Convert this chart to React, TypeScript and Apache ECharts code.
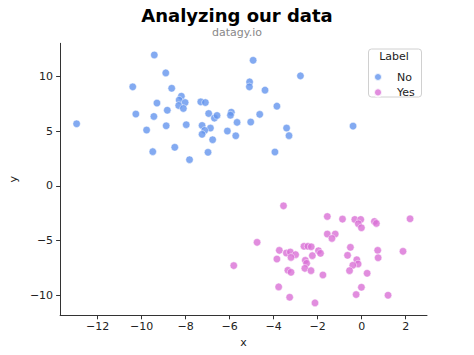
import React, { useEffect, useRef } from "react";
import * as echarts from "echarts";

const noX = [-12.95, -9.42, -8.9, -10.4, -8.63, -8.19, -8.29, -8.02, -9.3, -8.31, -8.1, -8.83, -10.26, -9.44, -9.77, -8.88, -7.97, -9.49, -8.49, -7.82, -7.31, -7.1, -6.95, -6.69, -6.57, -5.92, -5.96, -7.25, -6.87, -7.13, -7.25, -6.77, -6.98, -6.1, -5.72, -5.66, -5.04, -5.09, -5.1, -4.93, -4.63, -2.78, -4.39, -3.85, -3.41, -3.3, -3.94, -0.39];
const noY = [5.66, 11.94, 10.3, 9.03, 8.9, 8.18, 7.82, 7.6, 7.55, 7.33, 7.06, 6.9, 6.55, 6.33, 5.09, 5.48, 5.58, 3.12, 3.52, 2.39, 7.66, 7.6, 6.6, 6.18, 6.42, 6.72, 6.45, 5.51, 5.27, 5.06, 4.7, 4.21, 3.06, 5.0, 4.57, 5.79, 5.82, 9.48, 9.03, 11.45, 6.52, 10.03, 8.73, 7.27, 5.27, 4.58, 3.09, 5.45];

const yesX = [-3.55, -1.56, -0.87, -1.56, -1.2, -1.35, -4.75, -2.62, -2.44, -2.29, -3.74, -1.96, -3.42, -3.24, -3.0, -1.87, -3.21, -3.85, -2.24, -2.56, -2.5, -2.58, -2.3, -3.35, -3.21, -1.76, -3.77, -3.27, -2.12, -0.31, -0.04, -0.15, -0.01, 0.58, 0.67, 2.2, -0.51, 0.73, 1.88, -0.64, 0.75, -0.22, -0.16, -0.4, -0.55, 0.25, -0.01, -0.25, 1.2, -5.81];
const yesY = [-1.82, -2.79, -3.03, -4.39, -4.39, -4.79, -5.15, -5.51, -5.51, -5.55, -5.88, -5.91, -6.12, -6.03, -6.27, -6.15, -6.52, -6.67, -6.36, -6.79, -7.06, -7.52, -7.73, -7.7, -7.88, -8.12, -9.21, -10.15, -10.67, -3.06, -3.06, -3.45, -3.82, -3.24, -3.42, -3.0, -5.6, -5.88, -5.97, -6.33, -6.55, -6.73, -7.12, -7.24, -7.73, -7.97, -9.24, -9.91, -9.97, -7.27];

const xTicks = [-12, -10, -8, -6, -4, -2, 0, 2];
const yTicks = [-10, -5, 0, 5, 10];
const xRange = [-13.7, 2.97];
const yRange = [-11.8, 13.0];

const seriesNames = ["No", "Yes"];
const seriesColors = ["#6495ED", "#DA70D6"];

const FONT = "DejaVu Sans";
const fmt = (v: number) => String(v).replace("-", "\u2212");

export default function App() {
  const ref = useRef<HTMLDivElement>(null);
  useEffect(() => {
    if (!ref.current) return;
    const chart = echarts.init(ref.current, undefined, { renderer: "svg" });
    const noData = noX.map((x, i) => [x, noY[i]]);
    const yesData = yesX.map((x, i) => [x, yesY[i]]);
    const axisCommon = {
      axisLine: { show: true, onZero: false, lineStyle: { color: "#333", width: 1 } },
      axisTick: { show: true, length: 4, lineStyle: { color: "#333", width: 1 } },
      splitLine: { show: false },
      nameTextStyle: { fontFamily: FONT, fontSize: 11, color: "#222" },
    };
    chart.setOption({
      animation: false,
      backgroundColor: "#fff",
      title: {
        text: "Analyzing our data",
        subtext: "datagy.io",
        left: "center",
        top: 1,
        itemGap: 3,
        textStyle: { fontFamily: FONT, fontSize: 18, fontWeight: "bold", color: "#000" },
        subtextStyle: { fontFamily: FONT, fontSize: 11, color: "#888" },
      },
      grid: { left: 60, right: 47, top: 43.3, bottom: 39.7, containLabel: false },
      xAxis: {
        type: "value",
        min: xRange[0],
        max: xRange[1],
        name: "x",
        nameLocation: "middle",
        nameGap: 21,
        ...axisCommon,
        axisTick: { ...axisCommon.axisTick, customValues: xTicks },
        axisLabel: {
          customValues: xTicks,
          formatter: fmt,
          fontFamily: FONT,
          fontSize: 11,
          color: "#222",
          margin: 6,
        },
      },
      yAxis: {
        type: "value",
        min: yRange[0],
        max: yRange[1],
        name: "y",
        nameLocation: "middle",
        nameGap: 34,
        ...axisCommon,
        axisTick: { ...axisCommon.axisTick, customValues: yTicks },
        axisLabel: {
          customValues: yTicks,
          formatter: fmt,
          fontFamily: FONT,
          fontSize: 11,
          color: "#222",
          margin: 7,
        },
      },
      legend: {
        orient: "vertical",
        left: 368,
        top: 65,
        itemWidth: 28,
        itemHeight: 8,
        itemGap: 1.4,
        icon: "circle",
        data: seriesNames,
        textStyle: { fontFamily: FONT, fontSize: 11, color: "#222", lineHeight: 14 },
      },
      graphic: [
        {
          type: "rect",
          shape: { x: 368.5, y: 49, width: 53, height: 48, r: 3 },
          style: { fill: "rgba(255,255,255,0.8)", stroke: "#d0d0d0", lineWidth: 1 },
          z: -1,
          silent: true,
        },
        {
          type: "text",
          x: 394,
          y: 56.5,
          style: {
            text: "Label",
            fontFamily: FONT,
            fontSize: 11,
            fill: "#222",
            align: "center",
            verticalAlign: "middle",
          },
        },
      ],
      series: [
        {
          name: seriesNames[0],
          type: "scatter",
          data: noData,
          symbolSize: 7.5,
          itemStyle: { color: seriesColors[0], borderColor: "#fff", borderWidth: 0.6 },
        },
        {
          name: seriesNames[1],
          type: "scatter",
          data: yesData,
          symbolSize: 7.5,
          itemStyle: { color: seriesColors[1], borderColor: "#fff", borderWidth: 0.6 },
        },
      ],
    });
    return () => chart.dispose();
  }, []);
  return <div ref={ref} style={{ width: 474, height: 355, position: "absolute", left: 0, top: 0 }} />;
}
